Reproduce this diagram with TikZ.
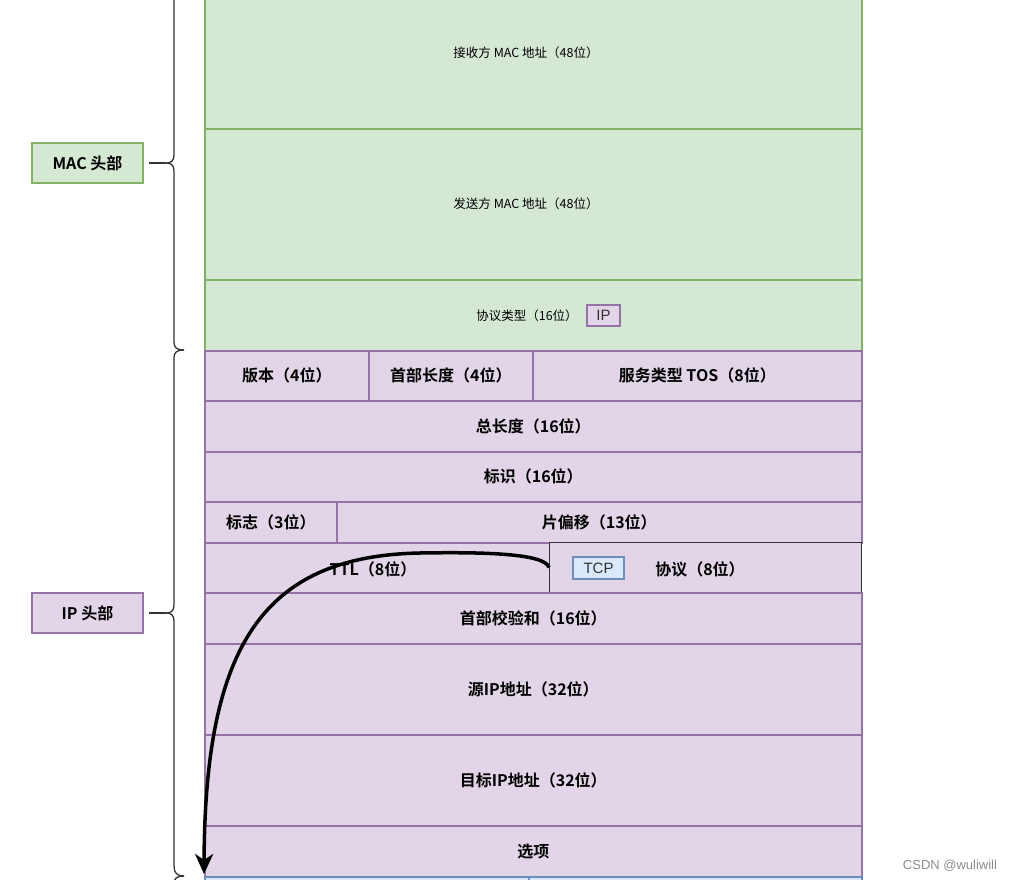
\documentclass[tikz,border=0pt]{standalone}
\usepackage{fontspec}
\setmainfont{Liberation Sans}
\newfontfamily\cjk{Noto Sans CJK SC}[BoldFont={Noto Sans CJK SC Bold}]
\usetikzlibrary{arrows.meta}
\definecolor{gfill}{HTML}{D5E8D4}
\definecolor{gline}{HTML}{82B366}
\definecolor{pfill}{HTML}{E1D5E7}
\definecolor{pline}{HTML}{9673A6}
\definecolor{bfill}{HTML}{DAE8FC}
\definecolor{bline}{HTML}{6C8EBF}
\definecolor{brc}{HTML}{333333}
\tikzset{
  gcell/.style={draw=gline,fill=gfill,line width=1.6pt,inner sep=0pt,anchor=north west},
  pcell/.style={draw=pline,fill=pfill,line width=1.6pt,inner sep=0pt,anchor=north west,font=\cjk\bfseries\fontsize{16}{18}\selectfont},
  bcell/.style={draw=bline,fill=bfill,line width=1.6pt,inner sep=0pt,anchor=north west},
  tag/.style={line width=1.6pt,inner sep=0pt,minimum width=111pt,minimum height=40pt,font=\cjk\bfseries\fontsize{16}{18}\selectfont},
  brace/.style={draw=brc,line width=1.3pt},
  glbl/.style={inner sep=0pt,font=\cjk\fontsize{12.5}{14}\selectfont},
  plbl/.style={inner sep=0pt,font=\cjk\bfseries\fontsize{16}{18}\selectfont},
  chip/.style={line width=1.6pt,inner sep=0pt,font=\fontsize{15}{17}\selectfont,text=black!80},
}
\begin{document}
\begin{tikzpicture}[x=1pt,y=-1pt]
\useasboundingbox (0,0) rectangle (1012,880);
% MAC header cells
\node[gcell,minimum width=657pt,minimum height=138pt] (rmac) at (204,-10) {};
\node[gcell,minimum width=657pt,minimum height=151pt] (smac) at (204,128) {};
\node[gcell,minimum width=657pt,minimum height=71pt] (ptype) at (204,279) {};
\node[glbl] (trmac) at (526,53) {接收方 MAC 地址（48位）};
\node[glbl] (tsmac) at (526,204) {发送方 MAC 地址（48位）};
\node[glbl] (tptype) at (527,316) {协议类型（16位）};
\node[chip,draw=pline,fill=pfill,minimum width=33pt,minimum height=21pt] (ipbox) at (603.5,315.5) {IP};
% IP header cells
\node[pcell,minimum width=164pt,minimum height=50pt] (ver) at (204,350) {版本（4位）};
\node[pcell,minimum width=164pt,minimum height=50pt] (hlen) at (368,350) {首部长度（4位）};
\node[pcell,minimum width=329pt,minimum height=50pt] (tos) at (532,350) {服务类型 TOS（8位）};
\node[pcell,minimum width=657pt,minimum height=51pt] (tlen) at (204,400) {总长度（16位）};
\node[pcell,minimum width=657pt,minimum height=50pt] (ident) at (204,451) {标识（16位）};
\node[pcell,minimum width=132pt,minimum height=41pt] (flag) at (204,501) {标志（3位）};
\node[pcell,minimum width=525pt,minimum height=41pt] (frag) at (336,501) {片偏移（13位）};
\node[pcell,minimum width=345pt,minimum height=50pt] (ttl) at (204,542) {};
\node[pcell,draw=brc,line width=1pt,minimum width=312pt,minimum height=50pt] (proto) at (549,542) {};
\node[plbl] (tttl) at (373,569) {TTL（8位）};
\node[plbl] (tproto) at (700,569) {协议（8位）};
\node[chip,draw=bline,fill=bfill,minimum width=51pt,minimum height=22pt] (tcp) at (598.5,568) {TCP};
\node[pcell,minimum width=657pt,minimum height=51pt] (csum) at (204,592) {首部校验和（16位）};
\node[pcell,minimum width=657pt,minimum height=91pt] (src) at (204,643) {源IP地址（32位）};
\node[pcell,minimum width=657pt,minimum height=91pt] (dst) at (204,734) {目标IP地址（32位）};
\node[pcell,minimum width=657pt,minimum height=51pt] (opt) at (204,825) {选项};
% next block (blue)
\node[bcell,minimum width=324pt,minimum height=30pt] (b1) at (204,876) {};
\node[bcell,minimum width=333pt,minimum height=30pt] (b2) at (528,876) {};
% tags
\node[tag,draw=gline,fill=gfill] (mactag) at (87.5,163) {MAC 头部};
\node[tag,draw=pline,fill=pfill] (iptag) at (87.5,613) {IP 头部};
% braces
\coordinate (mtip) at (166,163);
\coordinate (itip) at (166,613);
\draw[brace] (174,-10) -- (174,155) .. controls (174,161) and (171,163) .. (mtip)
  .. controls (171,163) and (174,165) .. (174,171) -- (174,342) .. controls (174,348) and (177,350) .. (184,350);
\draw[brace] (mactag.east) ++(5,0) -- (mtip);
\draw[brace] (184,350) .. controls (177,350) and (174,352) .. (174,358) -- (174,605) .. controls (174,611) and (171,613) .. (itip)
  .. controls (171,613) and (174,615) .. (174,621) -- (174,866) .. controls (174,873) and (177,876) .. (184,876);
\draw[brace] (iptag.east) ++(5,0) -- (itip);
\draw[brace] (184,876) .. controls (177,876) and (174,878) .. (174,884);
% arrow
\draw[line width=3.5pt,-{Stealth[length=20pt,width=18pt,inset=6pt]}] (proto.west) .. controls (545,553) and (480,552) .. (420,553)
  .. controls (260,556) and (205,650) .. (204,874);
% watermark
\node[inner sep=0pt,text=black!45,font=\fontsize{13}{15}\selectfont] (wm) at (950,866) {CSDN @wuliwill};
\end{tikzpicture}
\end{document}
